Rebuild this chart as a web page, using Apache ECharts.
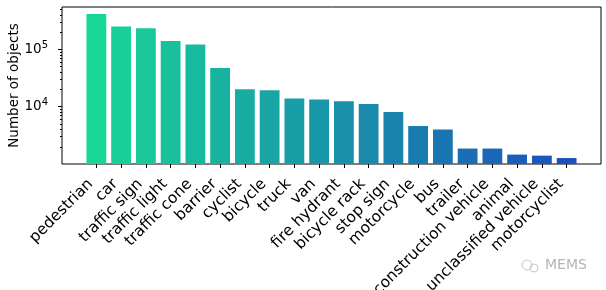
<!DOCTYPE html>
<html>
<head>
<meta charset="utf-8">
<script src="https://cdn.jsdelivr.net/npm/echarts@6/dist/echarts.min.js"></script>
<style>
  html, body { margin: 0; padding: 0; background: #fff; }
  #chart { width: 606px; height: 290px; }
</style>
</head>
<body>
<div id="chart"></div>
<script>
// object classes, sorted by count
const categories = [
  'pedestrian', 'car', 'traffic sign', 'traffic light', 'traffic cone',
  'barrier', 'cyclist', 'bicycle', 'truck', 'van',
  'fire hydrant', 'bicycle rack', 'stop sign', 'motorcycle', 'bus',
  'trailer', 'construction vehicle', 'animal', 'unclassified vehicle', 'motorcyclist'
];
const counts = [
  414000, 252000, 233000, 140000, 122000,
  47600, 20200, 19400, 13900, 13400,
  12500, 11200, 8100, 4600, 4000,
  1860, 1860, 1460, 1400, 1270
];
const yTickLabels = [10000, 100000];
const yMinorTicks = [
  2000, 3000, 4000, 5000, 6000, 7000, 8000, 9000,
  20000, 30000, 40000, 50000, 60000, 70000, 80000, 90000,
  200000, 300000, 400000, 500000
];

// bar colours go from green-teal to blue
const C0 = [24, 214, 150];
const C1 = [25, 82, 188];
function barColor(i, n) {
  const t = n > 1 ? i / (n - 1) : 0;
  const c = C0.map((v, k) => Math.round(v + (C1[k] - v) * t));
  return `rgb(${c[0]},${c[1]},${c[2]})`;
}

const chart = echarts.init(document.getElementById('chart'), null, { renderer: 'canvas' });
const FONT = 'DejaVu Sans';
const Y_MIN = 1000, Y_MAX = 550000;

chart.setOption({
  backgroundColor: '#ffffff',
  animation: false,
  textStyle: { fontFamily: FONT },
  grid: [
    // frame + y axis
    {
      left: 62, right: 5, top: 7, bottom: 126, outerBoundsMode: 'none',
      show: true, borderColor: '#000', borderWidth: 1, backgroundColor: 'transparent'
    },
    // bars, inset like matplotlib's x margins
    { left: 84, right: 27, top: 7, bottom: 126, outerBoundsMode: 'none' }
  ],
  xAxis: [
    { gridIndex: 0, type: 'value', min: 0, max: 1, show: false },
    {
      gridIndex: 1,
      type: 'category',
      data: categories,
      axisLine: { show: false },
      axisTick: { show: true, alignWithLabel: true, length: 4, lineStyle: { color: '#000' } },
      axisLabel: {
        rotate: 45, interval: 0, margin: 12, padding: [0, 8, 0, 0],
        fontSize: 15.5, color: '#000', fontFamily: FONT
      }
    }
  ],
  yAxis: [
    {
      gridIndex: 0,
      type: 'log',
      min: Y_MIN,
      max: Y_MAX,
      name: 'Number of objects',
      nameLocation: 'middle',
      nameGap: 41,
      nameMoveOverlap: false,
      nameTextStyle: { fontSize: 13.5, color: '#000', fontFamily: FONT },
      axisLine: { show: false },
      axisTick: { show: true, length: 4, customValues: yTickLabels, lineStyle: { color: '#000' } },
      splitLine: { show: false },
      axisLabel: {
        margin: 14,
        customValues: yTickLabels,
        fontFamily: FONT,
        formatter: (v) => '{b|10}{s|' + Math.round(Math.log10(v)) + '}',
        rich: {
          b: { fontSize: 13.5, color: '#000', fontFamily: FONT, lineHeight: 18 },
          s: { fontSize: 10, color: '#000', fontFamily: FONT, lineHeight: 18, verticalAlign: 'top', padding: [0, 0, 6, 0] }
        }
      }
    },
    {
      // minor ticks only
      gridIndex: 0,
      type: 'log',
      min: Y_MIN,
      max: Y_MAX,
      position: 'left',
      axisLine: { show: false },
      axisLabel: { show: false },
      splitLine: { show: false },
      axisTick: { show: true, length: 2, customValues: yMinorTicks, lineStyle: { color: '#000' } }
    },
    { gridIndex: 1, type: 'log', min: Y_MIN, max: Y_MAX, show: false }
  ],
  series: [
    {
      type: 'bar',
      xAxisIndex: 1,
      yAxisIndex: 2,
      barWidth: '80%',
      data: counts.map((v, i) => ({ value: v, itemStyle: { color: barColor(i, counts.length) } }))
    }
  ],
  graphic: [
    { type: 'circle', shape: { cx: 527, cy: 265, r: 5 }, style: { fill: 'none', stroke: '#c8c8c8', lineWidth: 1 } },
    { type: 'circle', shape: { cx: 534, cy: 268, r: 4 }, style: { fill: 'none', stroke: '#c8c8c8', lineWidth: 1 } },
    { type: 'text', left: 545, top: 258, style: { text: 'MEMS', fill: '#b4b4b4', font: '14px "DejaVu Sans"' } }
  ]
});
</script>
</body>
</html>
